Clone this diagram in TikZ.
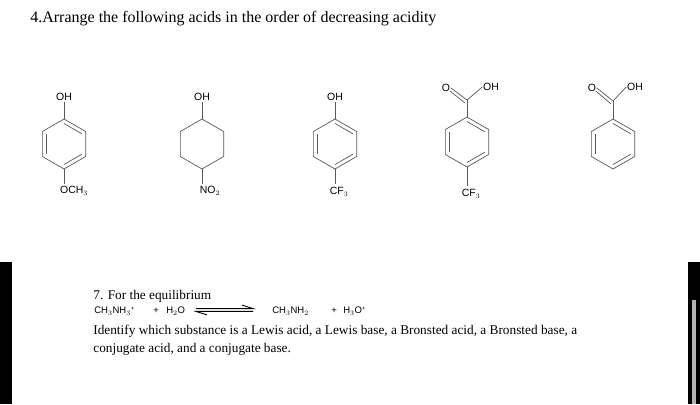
\documentclass[tikz,border=0pt]{standalone}
\usepackage{fontspec}
\usetikzlibrary{calc}
\setmainfont{Liberation Serif}
\newfontfamily\arialf{Liberation Sans}
\begin{document}
\begin{tikzpicture}[x=1pt,y=-1pt,line width=0.7pt,
  lab/.style={font=\arialf\fontsize{10.5}{10}\selectfont,inner sep=0.5pt},
  eq/.style={font=\arialf\fontsize{9.5}{9}\selectfont,inner sep=0pt,anchor=west},
  txt/.style={font=\fontsize{13.3}{14}\selectfont,anchor=west,inner sep=0}]
\useasboundingbox (0,0) rectangle (700,404);
\fill[white] (0,0) rectangle (700,404);
\fill[black] (0,262) rectangle (12,404);
\fill[black] (688,262) rectangle (700,404);
\fill[gray!60] (692,300) rectangle (696,404);
\node[txt,font=\fontsize{16}{16}\selectfont] (title) at (30,19) {4.Arrange the following acids in the order of decreasing acidity};
\tikzset{arom/.pic={
  \draw[gray!70!black] (0,-25) -- (21.65,-12.5) -- (21.65,12.5) -- (0,25) -- (-21.65,12.5) -- (-21.65,-12.5) -- cycle;
  \draw[gray!70!black] (0,-20.5) -- (17.75,-10.25);
  \draw[gray!70!black] (17.75,10.25) -- (0,20.5);
  \draw[gray!70!black] (-17.75,10.25) -- (-17.75,-10.25);
 }}
% ring 1
\pic at (64,144) {arom};
\node[lab] (oh1) at (64,97) {OH};
\draw[gray!70!black] (64,119) -- (oh1.south);
\node[lab] (s1) at (74,191) {OCH$_3$};
\draw[gray!70!black] (64,169) -- (64,184);
% ring 2
\draw[gray!70!black] (202,119) -- (223.65,131.5) -- (223.65,156.5) -- (202,169) -- (180.35,156.5) -- (180.35,131.5) -- cycle;
\node[lab] (oh2) at (202,97) {OH};
\draw[gray!70!black] (202,119) -- (oh2.south);
\node[lab] (s2) at (210,191) {NO$_2$};
\draw[gray!70!black] (202,169) -- (202,184);
% ring 3
\pic at (335,144) {arom};
\node[lab] (oh3) at (335,97) {OH};
\draw[gray!70!black] (335,119) -- (oh3.south);
\node[lab] (s3) at (339,192) {CF$_3$};
\draw[gray!70!black] (335,169) -- (335,184);
% ring 4
\pic at (467,142) {arom};
\draw[gray!70!black] (467,117) -- (467,100);
\node[lab] (o4) at (446,88) {O};
\node[lab] (h4) at (491,87) {OH};
\draw[gray!70!black] (467,100) -- (o4.east);
\draw[gray!70!black] (465,103) -- ($(o4.east)+(-1,3)$);
\draw[gray!70!black] (467,100) -- (h4.west);
\node[lab] (s4) at (471,194) {CF$_3$};
\draw[gray!70!black] (467,167) -- (467,186);
% ring 5
\pic at (613,144) {arom};
\draw[gray!70!black] (613,119) -- (613,101);
\node[lab] (o5) at (592,88) {O};
\node[lab] (h5) at (635,87) {OH};
\draw[gray!70!black] (613,101) -- (o5.east);
\draw[gray!70!black] (611,104) -- ($(o5.east)+(-1,3)$);
\draw[gray!70!black] (613,101) -- (h5.west);
% question 7
\node[txt] (q7) at (93,296) {7. For the equilibrium};
\node[eq] (a1) at (94,311) {CH$_3$NH$_3$\raisebox{3pt}{\fontsize{6}{6}\selectfont +}};
\node[eq] (p1) at (153,311) {+};
\node[eq] (a2) at (166,311) {H$_2$O};
\coordinate (ea) at (196,310); \coordinate (eb) at (253,310);
\draw[line width=0.9pt] ($(ea)+(0,-1.4)$) -- ($(eb)+(0,-1.4)$) -- ++(-11,-3.5);
\draw[line width=0.9pt] ($(eb)+(0,1.4)$) -- ($(ea)+(0,1.4)$) -- ++(11,3.5);
\node[eq] (b1) at (272,311) {CH$_3$NH$_2$};
\node[eq] (p2) at (331,311) {+};
\node[eq] (b2) at (343,311) {H$_3$O\raisebox{3pt}{\fontsize{6}{6}\selectfont +}};
\node[txt] (id1) at (93,331) {Identify which substance is a Lewis acid, a Lewis base, a Bronsted acid, a Bronsted base, a};
\node[txt] (id2) at (93,349) {conjugate acid, and a conjugate base.};
\end{tikzpicture}
\end{document}
